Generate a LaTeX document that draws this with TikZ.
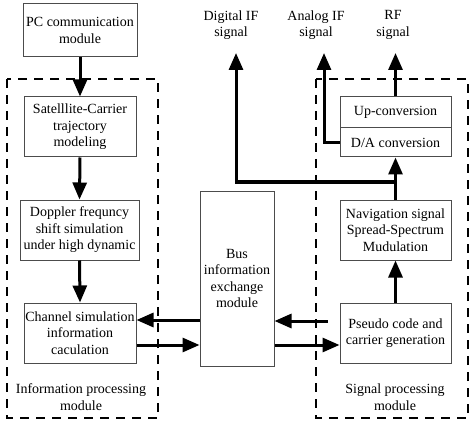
\documentclass[tikz,border=0pt]{standalone}
\usepackage{fontspec}
\setmainfont{Liberation Serif}
\usetikzlibrary{arrows.meta}

\tikzset{
  blk/.style={draw=black!70, line width=1pt, align=center, inner sep=0pt},
  arr/.style={line width=3pt, -{Triangle[length=17pt,width=14pt]}},
  grp/.style={line width=2.4pt, dash pattern=on 9pt off 7pt},
  lbl/.style={align=center, inner sep=0pt},
}

\begin{document}
\begin{tikzpicture}[x=1pt, y=-1pt, font=\fontsize{14}{16.5}\selectfont]
\useasboundingbox (0,0) rectangle (474,425);

% dashed module frames
\draw[grp] (7,79) rectangle (158,418);
\draw[grp] (316,79) rectangle (468,418);
\node[lbl] (infolbl) at (81,397) {Information processing\\module};
\node[lbl] (siglbl) at (395,397) {Signal processing\\module};

% left column
\node[blk, minimum width=114pt, minimum height=53pt] (pc) at (80,30.5) {PC communication\\module};
\node[blk, minimum width=112pt, minimum height=60pt] (sat) at (80,127) {Satelllite-Carrier\\trajectory\\modeling};
\node[blk, minimum width=119pt, minimum height=60pt] (dop) at (79.5,230) {Doppler frequncy\\shift simulation\\under high dynamic};
\node[blk, minimum width=112pt, minimum height=60pt] (chn) at (80,333) {Channel simulation\\information\\caculation};

% bus
\node[blk, minimum width=74pt, minimum height=175pt] (bus) at (237,278.5) {Bus\\information\\exchange\\module};

% right column
\node[blk, minimum width=111pt, minimum height=31pt] (up) at (395.5,112.5) {Up-conversion};
\node[blk, minimum width=111pt, minimum height=29pt] (da) at (395.5,142.5) {D/A conversion};
\node[blk, minimum width=111pt, minimum height=60pt] (nav) at (395.5,230) {Navigation signal\\Spread-Spectrum\\Mudulation};
\node[blk, minimum width=111pt, minimum height=60pt] (psd) at (395.5,333) {Pseudo code and\\carrier generation};

% outputs
\node[lbl] (dig) at (231,25) {Digital IF\\signal};
\node[lbl] (ana) at (316,25) {Analog IF\\signal};
\node[lbl] (rf) at (393,25) {RF\\signal};
\coordinate (dout) at (236,53);
\coordinate (aout) at (324,53);
\coordinate (rout) at (395.5,53);
\coordinate (br) at (395.5,182);

% connectors
\foreach \a/\b in {pc/sat, sat/dop, dop/chn}
  \draw[arr] (\a.south) -- (\b.north);
\foreach \a/\b in {psd/nav, nav/da}
  \draw[arr] (\a.north) -- (\b.south);
\draw[arr] (up.north) -- (rout);
\draw[arr] ([yshift=-41.5pt]bus.west) -- ([yshift=13pt]chn.east);
\draw[arr] ([yshift=-12pt]chn.east) -- ([yshift=-66.5pt]bus.west);
\draw[arr] ([xshift=-12pt,yshift=12pt]psd.west) -- ([yshift=-42.5pt]bus.east);
\draw[arr] ([yshift=-66.5pt]bus.east) -- ([yshift=-12pt]psd.west);
\draw[arr] (br) -| (dout);
\draw[arr] (da.west) -| (aout);
\end{tikzpicture}
\end{document}
